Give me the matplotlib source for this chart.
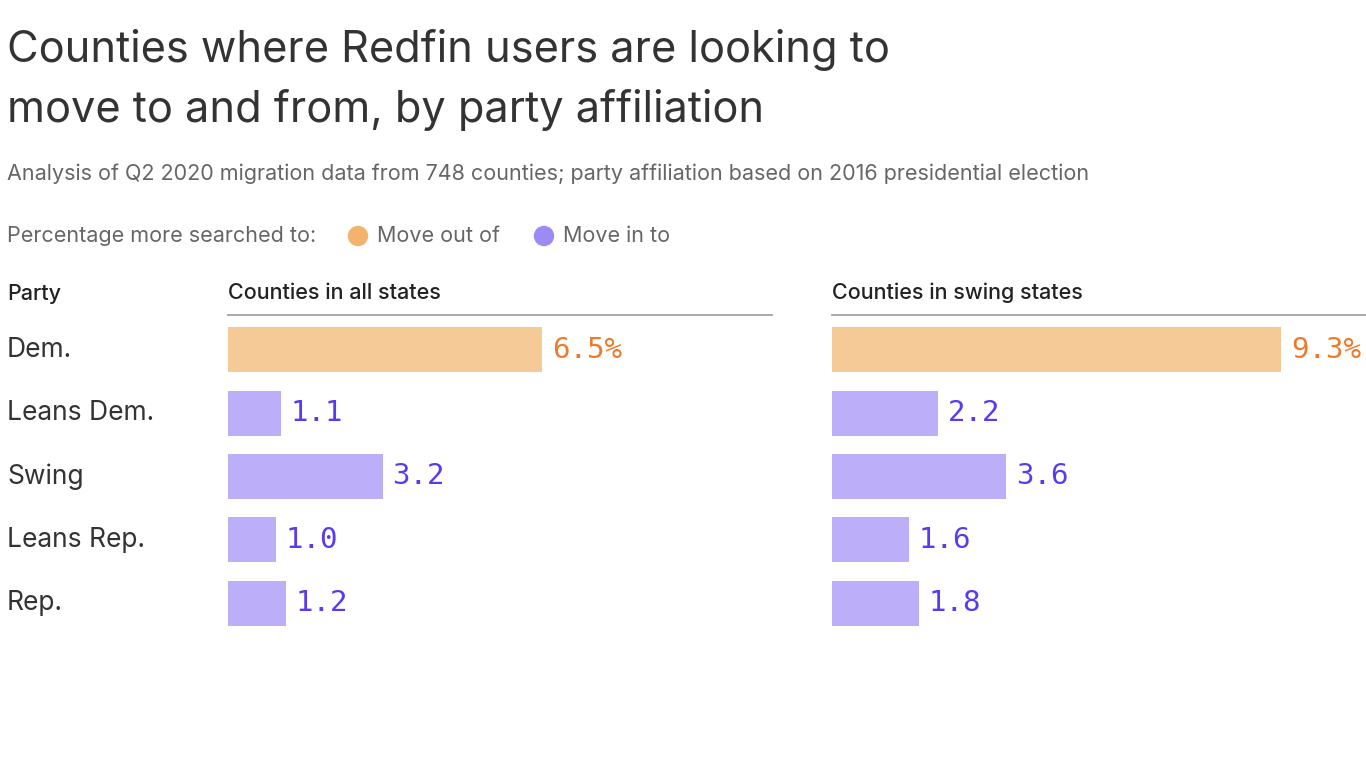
import matplotlib.pyplot as plt
from matplotlib.patches import Ellipse
from matplotlib.transforms import blended_transform_factory

# données
parties = ['Dem.', 'Leans Dem.', 'Swing', 'Leans Rep.', 'Rep.']
all_states = [6.5, 1.1, 3.2, 1.0, 1.2]
swing_states = [9.3, 2.2, 3.6, 1.6, 1.8]
value_labels_all = ['6.5%', '1.1', '3.2', '1.0', '1.2']
value_labels_swing = ['9.3%', '2.2', '3.6', '1.6', '1.8']
direction = ['out', 'in', 'in', 'in', 'in']

bar_colors = {'out': '#f5ca96', 'in': '#bcaef8'}
text_colors = {'out': '#ef7a2a', 'in': '#5a3af0'}
dot_colors = {'out': '#f4b26c', 'in': '#9c8af5'}

FONT = 'Inter'
MONO = 'DejaVu Sans Mono'

fig = plt.figure(figsize=(13.66, 7.68), dpi=100)
W, H = 1366, 768


def fx(px):
    return px / W


def fy(py):
    return 1 - py / H


fig.text(fx(7), fy(50), 'Counties where Redfin users are looking to', fontsize=31.2,
         family=FONT, color='#333333', va='center')
fig.text(fx(7), fy(110), 'move to and from, by party affiliation', fontsize=31.2,
         family=FONT, color='#333333', va='center')
fig.text(fx(7), fy(174), 'Analysis of Q2 2020 migration data from 748 counties; party affiliation based on 2016 presidential election',
         fontsize=15.5, family=FONT, color='#666666', va='center')

# légende
fig.text(fx(7), fy(236), 'Percentage more searched to:', fontsize=15.5, family=FONT,
         color='#666666', va='center')
for cx, key, lab in [(358, 'out', 'Move out of'), (544, 'in', 'Move in to')]:
    fig.patches.append(Ellipse((fx(cx), fy(236)), 19 / W, 19 / H, transform=fig.transFigure,
                               color=dot_colors[key], figure=fig))
    fig.text(fx(cx + 19), fy(236), lab, fontsize=15.5, family=FONT, color='#666666', va='center')

fig.text(fx(7), fy(294), 'Party', fontsize=15.5, family=FONT, color='#222222',
         va='center', fontweight='medium')

ax_bottom = 634.7
ax1 = fig.add_axes([fx(228), fy(ax_bottom), 544 / W, (ax_bottom - 315) / H])
ax2 = fig.add_axes([fx(832), fy(ax_bottom), 534 / W, (ax_bottom - 315) / H])

panels = [
    (ax1, all_states, value_labels_all, 'Counties in all states', 544),
    (ax2, swing_states, value_labels_swing, 'Counties in swing states', 534),
]
y = list(range(len(parties)))
px_per_unit = 48.3

for ax, vals, labs, header, width_px in panels:
    colors = [bar_colors[d] for d in direction]
    ax.barh(y, vals, height=0.71, color=colors)
    ax.set_xlim(0, width_px / px_per_unit)
    ax.set_ylim(4.5, -0.55)
    for s in ['left', 'right', 'bottom']:
        ax.spines[s].set_visible(False)
    ax.spines['top'].set_color('#999999')
    ax.spines['top'].set_linewidth(1.2)
    ax.set_xticks([])
    ax.set_yticks([])
    for yi, v, lab, d in zip(y, vals, labs, direction):
        ax.annotate(lab, (v, yi), xytext=(7, 0), textcoords='offset points',
                    fontsize=21, family=MONO, color=text_colors[d], va='center')
    ax.annotate(header, (0, 1), xycoords='axes fraction', xytext=(0, 16),
                textcoords='offset points', fontsize=15.5, family=FONT,
                color='#222222', va='center', fontweight='medium')

# libellés des lignes
trans = blended_transform_factory(fig.transFigure, ax1.transData)
for yi, p in zip(y, parties):
    ax1.text(fx(7), yi, p, transform=trans, fontsize=19, family=FONT,
             color='#333333', va='center')

fig.savefig('out.png', dpi=100)
